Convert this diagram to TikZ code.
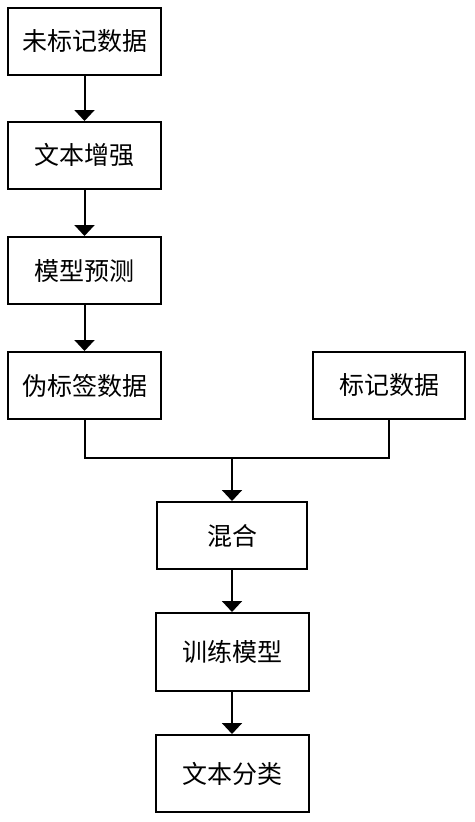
\documentclass[tikz,border=0pt]{standalone}
\usepackage{fontspec}
\newfontfamily\cjk{Noto Sans CJK SC}
\usepackage{tikz}
\usetikzlibrary{arrows.meta}

\begin{document}
\begin{tikzpicture}[x=1pt, y=-1pt,
    box/.style={draw, line width=2pt, inner sep=0pt, minimum width=153pt,
                minimum height=67pt, font=\cjk\fontsize{25}{30}\selectfont},
    link/.style={line width=2pt},
    flow/.style={line width=2pt, -{Triangle[length=11pt, width=20pt]}}]
    \useasboundingbox (0, 0) rectangle (474, 822);

    \node[box] (unlab) at (84.5, 41.5)  {未标记数据};
    \node[box] (aug)   at (84.5, 155.5) {文本增强};
    \node[box] (pred)  at (84.5, 270.5) {模型预测};
    \node[box] (pseudo) at (84.5, 385.5) {伪标签数据};
    \node[box, minimum width=152pt] (lab) at (389, 385.5) {标记数据};

    \draw[flow] (unlab) -- (aug);
    \draw[flow] (aug)   -- (pred);
    \draw[flow] (pred)  -- (pseudo);

    \coordinate (join) at (232, 458);
    \draw[link] (pseudo.south) |- (join) -| (lab.south);

    \node[box, minimum width=150pt] (mix) at (232, 535.5) {混合};
    \node[box, minimum height=78pt] (train) at (232, 652) {训练模型};
    \node[box, minimum height=77pt] (cls) at (232, 773.5) {文本分类};

    \draw[flow] (join)  -- (mix);
    \draw[flow] (mix)   -- (train);
    \draw[flow] (train) -- (cls);

\end{tikzpicture}
\end{document}
